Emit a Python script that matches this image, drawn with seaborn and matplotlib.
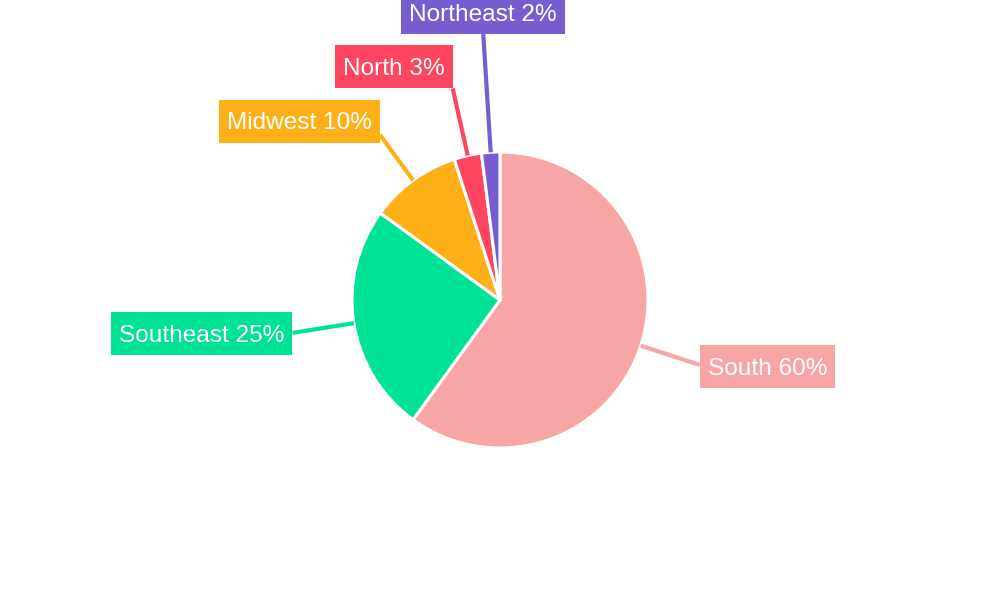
import numpy as np
import matplotlib.pyplot as plt
from matplotlib.patches import Rectangle
import seaborn as sns

regions = ["South", "Southeast", "Midwest", "North", "Northeast"]
shares = [60, 25, 10, 3, 2]
colors = ["#F8A5A6", "#00E396", "#FEB019", "#FF4560", "#775DD0"]

# label placement: radial distance (in radii), anchor of the box, extra shift (px)
label_dist = [1.42, 1.42, 1.38, 1.465, 1.80]
label_ha = ["left", "right", "right", "right", "center"]
label_va = ["center", "center", "bottom", "bottom", "bottom"]
label_dy = [-2, -1, -8, 0, 0]

sns.set_theme(style="white")
plt.rcParams["font.family"] = ["Liberation Sans", "DejaVu Sans"]

fig = plt.figure(figsize=(10, 6), dpi=100)
ax = fig.add_axes([0, 0, 1, 1])

cx, cy, R = 500, 300, 148
wedges, _ = ax.pie(shares, colors=colors, center=(cx, cy), radius=R,
                   startangle=90, counterclock=False,
                   wedgeprops=dict(edgecolor="white", linewidth=2.2))
# axes spans the figure, so one data unit = one pixel
ax.set_xlim(0, 1000)
ax.set_ylim(0, 600)
ax.set_aspect("equal")
ax.axis("off")

renderer = fig.canvas.get_renderer()
fs = 17.6
pad_x, pad_y = 8, 10.5
for w, name, val, col, d, ha, va, dy in zip(wedges, regions, shares, colors,
                                            label_dist, label_ha, label_va, label_dy):
    ang = np.deg2rad((w.theta1 + w.theta2) / 2)
    x0, y0 = cx + R * np.cos(ang), cy + R * np.sin(ang)
    x1, y1 = cx + d * R * np.cos(ang), cy + d * R * np.sin(ang)
    ax.plot([x0, x1], [y0, y1], color=col, lw=3, solid_capstyle="butt", zorder=1)

    t = ax.text(0, 0, f"{name} {val}%", fontsize=fs, color="white",
                ha="center", va="center", zorder=3)
    bb = t.get_window_extent(renderer)
    bw, bh = bb.width + 2 * pad_x, bb.height + 2 * pad_y
    bx = x1 if ha == "left" else (x1 - bw if ha == "right" else x1 - bw / 2)
    by = (y1 - bh / 2 if va == "center" else y1) + dy
    ax.add_patch(Rectangle((bx, by), bw, bh, fc=col, ec="none", zorder=2))
    t.set_position((bx + bw / 2, by + bh / 2 - 2))

plt.savefig("out.png", dpi=100)
